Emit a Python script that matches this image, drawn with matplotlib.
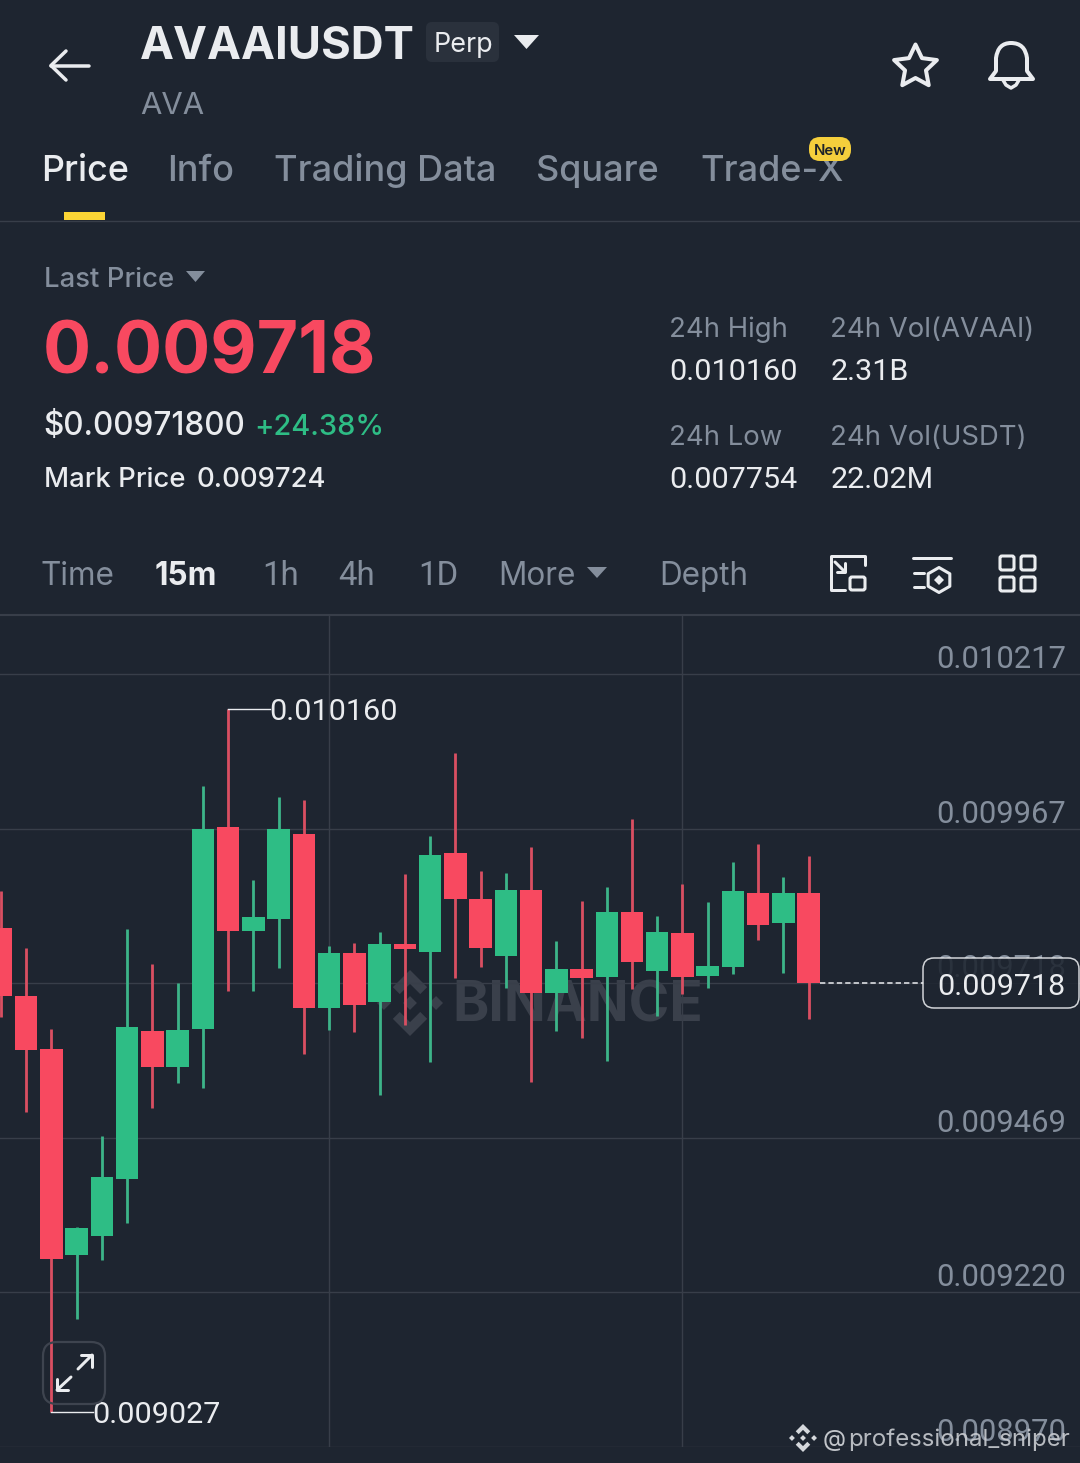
import numpy as np
import matplotlib
matplotlib.use('Agg')
import matplotlib.pyplot as plt
from matplotlib.patches import FancyBboxPatch, Polygon, Rectangle, PathPatch
from matplotlib.path import Path

plt.rcParams['font.family'] = ['Inter', 'DejaVu Sans']

# 15m candles
opens = [0.009808, 0.009698, 0.009612, 0.009279, 0.009311, 0.009403, 0.009641, 0.009583, 0.009645,
         0.009970, 0.009803, 0.009822, 0.009959, 0.009678, 0.009767, 0.009688, 0.009782, 0.009769,
         0.009928, 0.009854, 0.009762, 0.009869, 0.009703, 0.009741, 0.009729, 0.009833, 0.009738,
         0.009799, 0.009730, 0.009745, 0.009864, 0.009816, 0.009864]
highs = [0.009867, 0.009775, 0.009645, 0.009325, 0.009472, 0.009806, 0.009749, 0.009719, 0.010037,
         0.010160, 0.009885, 0.010019, 0.010014, 0.009778, 0.009783, 0.009801, 0.009895, 0.009956,
         0.010090, 0.009899, 0.009896, 0.009938, 0.009787, 0.009851, 0.009874, 0.009983, 0.009827,
         0.009878, 0.009849, 0.009914, 0.009943, 0.009890, 0.009924]
lows = [0.009664, 0.009511, 0.009027, 0.009177, 0.009272, 0.009332, 0.009517, 0.009558, 0.009549,
        0.009706, 0.009706, 0.009743, 0.009604, 0.009643, 0.009640, 0.009538, 0.009651, 0.009591,
        0.009727, 0.009745, 0.009711, 0.009559, 0.009641, 0.009630, 0.009593, 0.009709, 0.009666,
        0.009701, 0.009711, 0.009733, 0.009788, 0.009735, 0.009661]
closes = [0.009698, 0.009611, 0.009274, 0.009324, 0.009406, 0.009648, 0.009583, 0.009643, 0.009967,
          0.009803, 0.009825, 0.009967, 0.009678, 0.009767, 0.009683, 0.009782, 0.009774, 0.009925,
          0.009854, 0.009775, 0.009869, 0.009703, 0.009741, 0.009727, 0.009833, 0.009753, 0.009801,
          0.009729, 0.009746, 0.009867, 0.009812, 0.009864, 0.009718]

price_ticks = [0.010217, 0.009967, 0.009718, 0.009469, 0.009220, 0.008970]
grid_candles = [13, 27]
high_idx = 9
low_idx = 2
last_price = 0.009718

tabs = ['Price', 'Info', 'Trading Data', 'Square', 'Trade-X']
intervals = ['Time', '15m', '1h', '4h', '1D', 'More', 'Depth']

BG = '#1E2530'
GREEN = '#2EBD85'
RED = '#F84960'
GREY = '#848E9C'
WHITE = '#EAECEF'
GRID = '#383E49'
MARK = '#3A404B'
NUM = ['Roboto', 'DejaVu Sans']  # digits all the same width, like the app


def px_axes(z):
    a = fig.add_axes([0, 0, 1, 1], zorder=z)
    a.set_xlim(0, 1080)
    a.set_ylim(1463, 0)
    a.axis('off')
    return a


def txt(a, x, y, s, size, color=WHITE, weight='normal', ha='left', **kw):
    # size is in pixels of the em
    return a.text(x, y, s, fontsize=size * 0.72, color=color, fontweight=weight, ha=ha, va='baseline', **kw)


def line(a, xs, ys, color=WHITE, lw=3, **kw):
    a.plot(xs, ys, color=color, lw=lw * 0.72, solid_capstyle='round', solid_joinstyle='round', **kw)


def rbox(a, x0, y0, x1, y1, r, **kw):
    a.add_patch(FancyBboxPatch((x0 + r, y0 + r), x1 - x0 - 2 * r, y1 - y0 - 2 * r,
                               boxstyle='round,pad=%f,rounding_size=%f' % (r, r), **kw))


def tri(a, x0, x1, y0, y1, color):
    a.add_patch(Polygon([(x0, y0), (x1, y0), ((x0 + x1) / 2, y1)], closed=True, color=color, lw=0))


def logo(a, cx, cy, s, color):
    # s = half height of the diamond logo
    for sign in (-1, 1):
        a.add_patch(Polygon([(cx, cy + sign * s), (cx + .52 * s, cy + sign * .48 * s), (cx + .31 * s, cy + sign * .27 * s),
                             (cx, cy + sign * .58 * s), (cx - .31 * s, cy + sign * .27 * s), (cx - .52 * s, cy + sign * .48 * s)],
                            closed=True, color=color, lw=0))
        a.add_patch(Polygon([(cx + sign * s, cy), (cx + sign * .79 * s, cy + .21 * s),
                             (cx + sign * .58 * s, cy), (cx + sign * .79 * s, cy - .21 * s)],
                            closed=True, color=color, lw=0))
    a.add_patch(Polygon([(cx - s * .21, cy), (cx, cy - s * .21), (cx + s * .21, cy), (cx, cy + s * .21)],
                        closed=True, color=color, lw=0))


fig = plt.figure(figsize=(10.8, 14.63), dpi=100, facecolor=BG)
ui = px_axes(0)
top = px_axes(3)

# header
line(ui, [51, 89], [65.5, 65.5], lw=3.5)
line(ui, [66, 51, 66], [51, 65.5, 80], lw=3.5)
txt(ui, 140, 59, 'AVAAIUSDT', 45.5, weight='bold')
rbox(ui, 426, 22, 499, 62, 6, fc='#2A313C', ec='none')
txt(ui, 434, 52, 'Perp', 27)
tri(ui, 514, 539, 35, 49, WHITE)
txt(ui, 140, 114, 'AVA', 31, GREY)

# star
ang = np.deg2rad(np.arange(0, 360, 36) - 90)
rad = np.where(np.arange(10) % 2 == 0, 22.5, 11)
ui.add_patch(Polygon(np.c_[915.5 + rad * np.cos(ang), 67 + rad * np.sin(ang)], closed=True, fc='none', ec=WHITE,
                     lw=4 * 0.72, joinstyle='round'))
# bell
bell = Path([(990, 79), (996, 71), (996, 58), (998, 43), (1011, 43), (1025, 43), (1027, 58), (1027, 71), (1033, 79), (990, 79)],
            [Path.MOVETO, Path.LINETO, Path.LINETO, Path.CURVE3, Path.CURVE3, Path.CURVE3, Path.CURVE3, Path.LINETO, Path.LINETO, Path.CLOSEPOLY])
ui.add_patch(PathPatch(bell, fc='none', ec=WHITE, lw=4 * 0.72, joinstyle='round'))
line(ui, [1003, 1006, 1011, 1016, 1019], [80, 85, 88, 85, 80], lw=3.5)

# tabs
tab_x = [41, 167, 274, 536, 700]
for i in range(len(tabs)):
    txt(ui, tab_x[i], 181, tabs[i], 36, WHITE if i == 0 else GREY, weight='medium')
ui.add_patch(Rectangle((64, 212), 41, 8, color='#FCD535', lw=0))
ui.plot([0, 1080], [220.5, 220.5], color=GRID, lw=1)
rbox(ui, 809, 137, 851, 161, 11, fc='#F5CF3C', ec='none', zorder=4)
txt(ui, 830, 155, 'New', 15, '#1E2329', weight='semibold', ha='center', zorder=5)

# price block
txt(ui, 44, 287, 'Last Price', 27.5, GREY, weight='medium')
tri(ui, 186, 205, 271, 282, GREY)
txt(ui, 43, 373, '0.009718', 71.5, RED, weight='bold')
txt(ui, 43, 435, '$0.00971800', 31.5, WHITE, weight='medium')
txt(ui, 254, 435, '+24.38%', 29, GREEN, weight='medium')
txt(ui, 44, 487, 'Mark Price', 27.5, WHITE, weight='medium')
txt(ui, 197, 487, '0.009724', 27.5, WHITE, weight='medium')
txt(ui, 669, 337, '24h High', 27.5, GREY)
txt(ui, 830, 337, '24h Vol(AVAAI)', 27.5, GREY)
txt(ui, 669, 380, '0.010160', 30.5, WHITE, family=NUM)
txt(ui, 831, 380, '2.31B', 30.5, WHITE, family=NUM)
txt(ui, 669, 445, '24h Low', 27.5, GREY)
txt(ui, 830, 445, '24h Vol(USDT)', 27.5, GREY)
txt(ui, 669, 488, '0.007754', 30.5, WHITE, family=NUM)
txt(ui, 831, 488, '22.02M', 30.5, WHITE, family=NUM)

# interval bar
int_x = [40, 155, 262, 338, 418, 498, 659]
for i in range(len(intervals)):
    if intervals[i] in ('1h', '4h', '1D'):
        txt(ui, int_x[i], 585, intervals[i], 33, GREY, family=NUM)
    else:
        txt(ui, int_x[i], 585, intervals[i], 31.5, WHITE if i == 1 else GREY, weight='bold' if i == 1 else 'normal')
tri(ui, 587, 607, 567, 578, GREY)
ui.plot([0, 1080], [615, 615], color=GRID, lw=1.5)

# toolbar icons
line(ui, [845, 830.5, 830.5, 845], [556, 556, 590, 590])
line(ui, [845, 865, 865], [556, 556, 565])
rbox(ui, 850, 577, 865, 590, 2, fc='none', ec=WHITE, lw=2.2)
line(ui, [835, 845], [562, 572])
line(ui, [837, 845, 845], [572, 572, 563])
line(ui, [913, 951], [558, 558])
line(ui, [914, 924], [573, 573])
line(ui, [914, 924], [587, 587])
hx = 939 + 12.5 * np.sin(np.deg2rad(np.arange(0, 360, 60)))
hy = 580 + 12.5 * np.cos(np.deg2rad(np.arange(0, 360, 60)))
ui.add_patch(Polygon(np.c_[hx, hy], closed=True, fc='none', ec=WHITE, lw=2.2, joinstyle='round'))
ui.add_patch(Polygon([(934, 580), (939, 575), (944, 580), (939, 585)], closed=True, color=WHITE, lw=0))
for bx in (1000, 1021):
    for by in (556, 577):
        rbox(ui, bx, by, bx + 14, by + 14, 2, fc='none', ec=WHITE, lw=2.2)

# watermark goes under the candles
logo(ui, 410, 1003, 33, MARK)
txt(ui, 452, 1021, 'BINANCE', 55, MARK, weight='bold')

# chart
ax = fig.add_axes([0, (1463 - 1447) / 1463, 1, (1447 - 616) / 1463], zorder=1)
ax.patch.set_alpha(0)
opens = np.array(opens)
closes = np.array(closes)
idx = np.arange(len(opens))
up = closes >= opens
ax.vlines(idx[up], np.array(lows)[up], np.array(highs)[up], color='#3DB489', lw=2.8 * 0.72, zorder=3)
ax.vlines(idx[~up], np.array(lows)[~up], np.array(highs)[~up], color='#D94F62', lw=2.8 * 0.72, zorder=3)
ax.bar(idx[up], (closes - opens)[up], 0.89, bottom=opens[up], color=GREEN, lw=0, zorder=4)
ax.bar(idx[~up], (opens - closes)[~up], 0.89, bottom=closes[~up], color=RED, lw=0, zorder=4)
ax.set_xlim(-0.04, 42.75)
ax.set_ylim(0.0089705, 0.0103107)
ax.set_xticks(grid_candles)
ax.set_yticks(price_ticks)
ax.set_yticklabels(['%.6f' % p for p in price_ticks])
ax.grid(color=GRID, lw=1, zorder=0)
ax.yaxis.tick_right()
ax.tick_params(length=0, labelbottom=False, labelright=True, pad=-10)
for lab in ax.get_yticklabels():
    lab.set_ha('right')
    lab.set_va('bottom')
    lab.set_color(GREY)
    lab.set_fontsize(31 * 0.72)
    lab.set_family(NUM)
for s in ax.spines.values():
    s.set_visible(False)

for i, p in ((high_idx, highs[high_idx]), (low_idx, lows[low_idx])):
    ax.plot([i, i + 1.66], [p, p], color=WHITE, lw=1, zorder=5)
    ax.annotate('%.6f' % p, xy=(i, p), xytext=(41, -3), textcoords='offset pixels',
                color=WHITE, fontsize=30.5 * 0.72, va='center', ha='left', family=NUM, zorder=6)
ax.plot([len(opens) - 1 + 0.45, 36.55], [last_price, last_price], color=WHITE, lw=1.1, dashes=(3.5, 2), zorder=5)

# bits over the chart
rbox(top, 923, 958, 1079, 1008, 11, fc=BG, ec=WHITE, lw=1.1, alpha=0.88)
txt(top, 937, 995, '%.6f' % last_price, 30.5, WHITE, family=NUM)
rbox(top, 43, 1342, 105, 1404, 14, fc='none', ec='#3E444F', lw=1.6)
line(top, [78, 92], [1369, 1355])
line(top, [81, 92, 92], [1355, 1355, 1367])
line(top, [71, 57], [1377, 1390])
line(top, [57, 57, 68], [1379, 1390, 1390])
logo(top, 803, 1438, 14, '#D5D8DC')
txt(top, 823, 1446, '@', 24, '#D5D8DC', alpha=0.9)
txt(top, 848, 1446, 'professional_sniper', 24, '#C9CCD1', alpha=0.9)

fig.savefig('out.png', dpi=100, facecolor=BG)
